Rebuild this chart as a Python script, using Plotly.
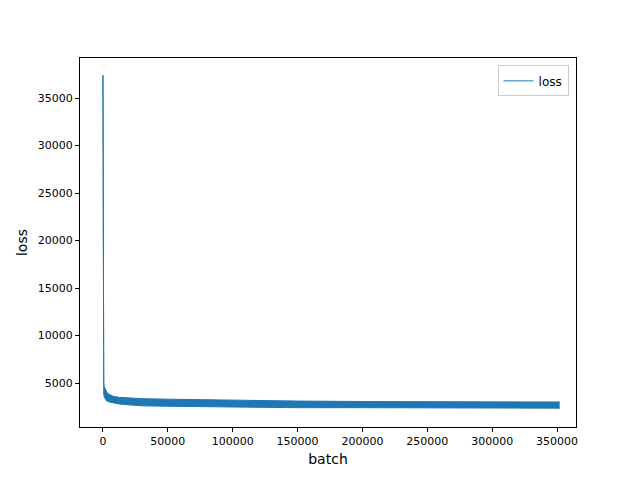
import plotly.graph_objects as go

# loss band: per batch, upper and lower edge of the noisy curve
batch = [0, 300, 600, 1000, 2000, 3000, 5000, 8000, 12000, 20000, 30000, 50000,
         75000, 100000, 150000, 200000, 250000, 300000, 352000]
loss_hi = [37400, 6300, 5000, 4600, 4200, 4000, 3800, 3600, 3500, 3400, 3350, 3300,
           3250, 3150, 3100, 3050, 3050, 3000, 3000]
loss_lo = [37400, 4200, 3800, 3500, 3300, 3100, 3000, 2900, 2800, 2700, 2600, 2550,
           2500, 2450, 2400, 2400, 2400, 2400, 2350]

c = "#1f77b4"
fig = go.Figure()
fig.add_trace(go.Scatter(x=batch, y=loss_hi, mode="lines", line=dict(color=c, width=1),
                         showlegend=False, hoverinfo="skip"))
fig.add_trace(go.Scatter(x=batch, y=loss_lo, mode="lines", line=dict(color=c, width=1),
                         fill="tonexty", fillcolor=c, showlegend=False))
# legend entry only
fig.add_trace(go.Scatter(x=[None], y=[None], mode="lines", line=dict(color=c, width=1),
                         name="loss"))

axis = dict(showgrid=False, zeroline=False, showline=True, linecolor="black", mirror=True,
            ticks="outside", ticklen=4, tickcolor="black", automargin=False,
            tickfont=dict(size=11))
fig.update_layout(
    width=640, height=480, plot_bgcolor="white", paper_bgcolor="white",
    margin=dict(l=72, r=72, t=50, b=61),
    font=dict(family="DejaVu Sans", size=12, color="black"),
    xaxis=dict(axis, range=[-17700, 364600], title=dict(text="batch", standoff=6),
               tickvals=[0, 50000, 100000, 150000, 200000, 250000, 300000, 350000],
               ticktext=["0", "50000", "100000", "150000", "200000", "250000", "300000", "350000"]),
    yaxis=dict(axis, range=[369, 39210], title=dict(text="loss", standoff=6),
               tickvals=[5000, 10000, 15000, 20000, 25000, 30000, 35000],
               ticktext=["5000", "10000", "15000", "20000", "25000", "30000", "35000"]),
    legend=dict(x=0.985, y=0.98, xanchor="right", yanchor="top", bordercolor="#cccccc",
                borderwidth=1, bgcolor="white", font=dict(size=12)),
)
fig.write_html("out.html")
